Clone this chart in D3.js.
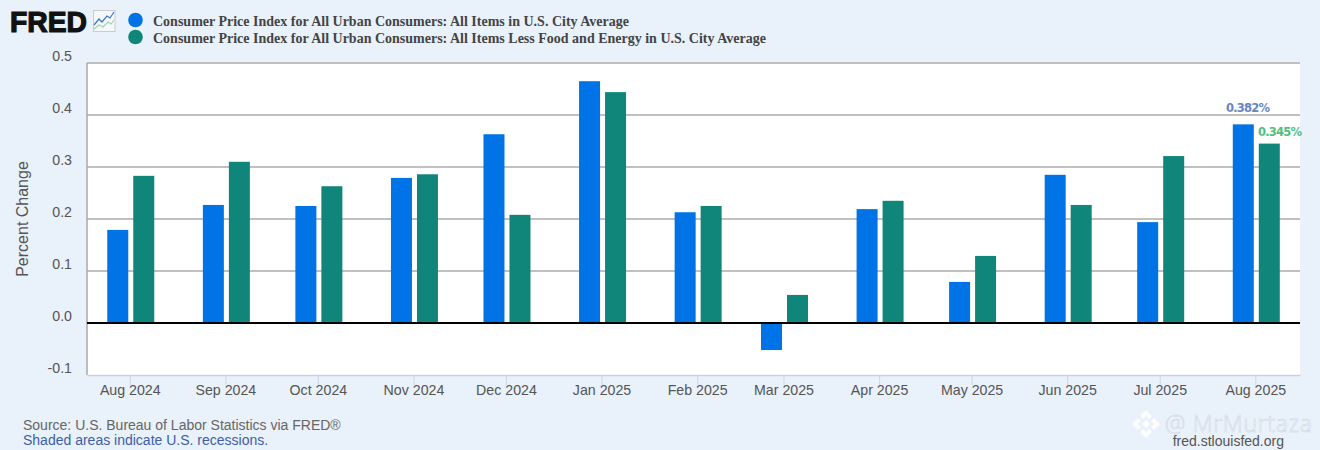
<!DOCTYPE html>
<html><head><meta charset="utf-8">
<script src="https://cdnjs.cloudflare.com/ajax/libs/d3/7.8.5/d3.min.js"></script>
<style>
html,body{margin:0;padding:0;background:#e9f1fa;overflow:hidden}
svg{display:block}
</style></head><body><svg id="c" width="1320" height="450"></svg>
<script>
const months = ["2024-08-01","2024-09-01","2024-10-01","2024-11-01","2024-12-01","2025-01-01","2025-02-01","2025-03-01","2025-04-01","2025-05-01","2025-06-01","2025-07-01","2025-08-01"];
const cpiAll = [0.179,0.227,0.225,0.279,0.363,0.465,0.213,-0.052,0.219,0.079,0.285,0.194,0.382];
const cpiCore = [0.283,0.310,0.263,0.286,0.208,0.444,0.225,0.054,0.235,0.129,0.227,0.321,0.345];
const yTicks = [-0.1,0,0.1,0.2,0.3,0.4,0.5];
const seriesNames = ["Consumer Price Index for All Urban Consumers: All Items in U.S. City Average","Consumer Price Index for All Urban Consumers: All Items Less Food and Energy in U.S. City Average"];
const seriesColors = ["#0073e6","#10857a"];
const sans = "'Liberation Sans',Arial,sans-serif";

const svg = d3.select("#c");
const dates = months.map(d => d3.utcParse("%Y-%m-%d")(d));
const day = 86400000;
const x = d3.scaleUtc().domain([+dates[0]-13.87*day, +dates[12]+14.5*day]).range([87,1300]);
const y = d3.scaleLinear().domain([-0.1,0.5]).range([375,63]);

// plot background
svg.append("rect").attr("x",87).attr("y",63).attr("width",1213).attr("height",312).attr("fill","#fff");

// grid + y axis
const yAxis = d3.axisLeft(y).tickValues(yTicks).tickSize(0).tickPadding(15)
  .tickFormat(d => d3.format(".1f")(d).replace("\u2212","-"));
const gy = svg.append("g").attr("transform","translate(87,0)").call(yAxis);
gy.select(".domain").remove();
gy.selectAll("text").attr("dy",0).attr("y",-1).attr("fill","#555").style("font",`14.2px ${sans}`)
  .attr("transform","translate(0,-2)");
svg.append("g").selectAll("line").data(yTicks.filter(d=>d>-0.1&&d!==0)).join("line")
  .attr("x1",87).attr("x2",1300).attr("y1",d=>y(d)).attr("y2",d=>y(d))
  .attr("stroke","#c0c0c0").attr("stroke-width",2);
svg.append("line").attr("x1",87).attr("x2",87).attr("y1",63).attr("y2",375).attr("stroke","#a8a8a8").attr("stroke-width",1.5);

// x axis
const xAxis = d3.axisBottom(x).tickValues(dates).tickSize(10).tickSizeOuter(0).tickPadding(0).tickFormat(d3.utcFormat("%b %Y"));
const gx = svg.append("g").attr("transform","translate(0,375)").call(xAxis);
gx.select(".domain").attr("stroke","#c6d2e4").attr("stroke-width",1.5);
gx.selectAll("line").attr("stroke","#ccd6eb");
gx.selectAll("text").attr("fill","#555").style("font",`14.2px ${sans}`);

// bars
const bar = (vals,off,col) => svg.append("g").selectAll("rect").data(vals).join("rect")
  .attr("x",(d,i)=>x(dates[i])+off).attr("width",21)
  .attr("y",d=>Math.min(y(d),y(0))).attr("height",d=>Math.abs(y(d)-y(0))).attr("fill",col);
bar(cpiAll,-22.5,seriesColors[0]);
bar(cpiCore,3.5,seriesColors[1]);

// zero line
svg.append("line").attr("x1",87).attr("x2",1300).attr("y1",y(0)).attr("y2",y(0)).attr("stroke","#000").attr("stroke-width",2);

// y title
svg.append("text").attr("transform","translate(28,219) rotate(-90)").attr("text-anchor","middle")
  .attr("fill","#555").style("font",`16px ${sans}`).text("Percent Change");

// annotations
svg.append("text").attr("x",1248).attr("y",112).attr("text-anchor","middle").attr("fill","#6585c4")
  .style("font",`bold 11.5px 'DejaVu Sans',sans-serif`).attr("textLength",44).text(d3.format(".3f")(cpiAll[12])+"%");
svg.append("text").attr("x",1280).attr("y",136).attr("text-anchor","middle").attr("fill","#4fbf7f")
  .style("font",`bold 11.5px 'DejaVu Sans',sans-serif`).attr("textLength",44).text(d3.format(".3f")(cpiCore[12])+"%");

// legend
seriesNames.forEach((n,i)=>{
  const ly = [20,37][i];
  svg.append("circle").attr("cx",135.5).attr("cy",ly).attr("r",7.3).attr("fill",seriesColors[i]);
  svg.append("text").attr("x",153).attr("y",ly+6).attr("fill","#444")
    .style("font",`bold 14px 'Liberation Serif',serif`).text(n);
});

// FRED logo
svg.append("text").attr("x",10).attr("y",32).attr("fill","#111")
  .style("font",`900 30px 'Liberation Sans',Arial,sans-serif`).attr("stroke","#111").attr("stroke-width",1.2)
  .attr("textLength",77).attr("lengthAdjust","spacingAndGlyphs").text("FRED");
const lg = svg.append("g").attr("transform","translate(93,10)");
lg.append("rect").attr("x",.5).attr("y",.5).attr("width",21.5).attr("height",21).attr("fill","#f4f7fb").attr("stroke","#ccc");
lg.append("path").attr("d","M1 15L6 9L9 12L14 6L17 8L21 2").attr("fill","none").attr("stroke","#3f74c4").attr("stroke-width",1.2);
lg.append("path").attr("d","M1 19L6 15L10 17L15 12L18 14L21 10").attr("fill","none").attr("stroke","#9bd8b0").attr("stroke-width",1.2);

// footer
svg.append("text").attr("x",23).attr("y",430).attr("fill","#666").style("font",`14px ${sans}`).text("Source: U.S. Bureau of Labor Statistics via FRED®");
svg.append("text").attr("x",23).attr("y",445).attr("fill","#3d5fa8").style("font",`14px ${sans}`).text("Shaded areas indicate U.S. recessions.");
svg.append("text").attr("x",1284).attr("y",446).attr("text-anchor","end").attr("fill","#555").style("font",`14px ${sans}`).text("fred.stlouisfed.org");

// watermark
const wm = svg.append("g").attr("fill","#fff").attr("opacity",.9);
wm.append("path").attr("transform","translate(1146,424)")
  .attr("d","M0-14L6-8L3-5L0-8L-3-5L-6-8ZM-8-6L-5-3L-8 0L-5 3L-8 6L-14 0ZM8-6L14 0L8 6L5 3L8 0L5-3ZM0-4L4 0L0 4L-4 0ZM-6 8L-3 5L0 8L3 5L6 8L0 14Z");
wm.append("text").attr("x",1165).attr("y",432).attr("fill","#fff").attr("stroke","#c3cfdf").attr("stroke-width",.5)
  .style("font",`300 23px 'Open Sans',sans-serif`).attr("textLength",147).text("@ MrMurtaza");
</script></body></html>
